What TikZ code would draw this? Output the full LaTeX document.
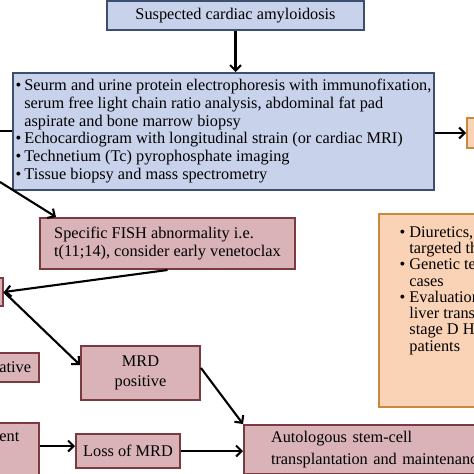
\documentclass[tikz,border=0pt]{standalone}
\usepackage{fontspec}
\setmainfont{Liberation Serif}
\usetikzlibrary{arrows.meta}
\definecolor{bluefill}{HTML}{C8D2EB}
\definecolor{blueline}{HTML}{3D4F6E}
\definecolor{redfill}{HTML}{D9B3B7}
\definecolor{redline}{HTML}{7A3A40}
\definecolor{orfill}{HTML}{FAD3B6}
\definecolor{orline}{HTML}{C98A3E}
\newcommand{\bul}{\textbullet}
\begin{document}
\begin{tikzpicture}[x=1pt,y=-1pt,
  font=\fontsize{16.3}{18}\selectfont,
  box/.style={draw, line width=2pt, inner sep=0pt},
  bluebox/.style={box, draw=blueline, fill=bluefill},
  redbox/.style={box, draw=redline, fill=redfill},
  orbox/.style={box, draw=orline, fill=orfill},
  conn/.style={line width=2.1pt, black},
  arr/.style={conn, -{Straight Barb[length=5.5pt,width=11pt]}}]
\useasboundingbox (0,0) rectangle (474,474);
\fill[white] (0,0) rectangle (474,474);
\clip (0,0) rectangle (474,474);

\node[bluebox, minimum width=257pt, minimum height=29pt] (susp) at (235.5,15.5) {Suspected cardiac amyloidosis};

\node[bluebox, minimum width=421pt, minimum height=117pt, font=\fontsize{16.3}{17.8}\selectfont] (tests) at (223.5,131.5) {%
\begin{tabular}{@{}l@{\hspace{3pt}}l@{}}
\bul & Seurm and urine protein electrophoresis with immunofixation,\\
 & serum free light chain ratio analysis, abdominal fat pad\\
 & aspirate and bone marrow biopsy\\
\bul & Echocardiogram with longitudinal strain (or cardiac MRI)\\
\bul & Technetium (Tc) pyrophosphate imaging\\
\bul & Tissue biopsy and mass spectrometry
\end{tabular}};

\node[orbox, anchor=north west, minimum width=40pt, minimum height=30pt] (orsmall) at (466,117) {};

\node[redbox, minimum width=255pt, minimum height=51pt, align=left] (fish) at (167.5,243.5) {Specific FISH abnormality i.e.\\ t(11;14), consider early venetoclax};

\node[redbox, anchor=north east, minimum width=40pt, minimum height=28pt] (lbox) at (4,277) {};

\node[redbox, minimum width=119pt, minimum height=54pt, align=center, font=\fontsize{16.3}{19.5}\selectfont] (mrdpos) at (140.5,373) {MRD\\ positive};

\node[redbox, anchor=east, minimum height=29pt, inner xsep=8pt] (neg) at (40,367.5) {ative};

\node[redbox, anchor=north east, minimum width=60pt, minimum height=70pt] (treat) at (40,422) {};
\node[anchor=base east, inner sep=0pt] (treattext) at (19.5,441.7) {ent};

\node[redbox, minimum width=104pt, minimum height=34pt] (loss) at (128,451) {Loss of MRD};

\node[redbox, anchor=north west, minimum height=49pt, text width=300pt, inner xsep=27pt, align=left, font=\fontsize{16.3}{21.5}\selectfont] (auto) at (243,424) {Autologous stem-cell\\ transplantation and maintenance};

\node[orbox, anchor=north west, minimum width=150pt, minimum height=193pt] (orbig) at (378,213) {};
\node[anchor=north west, inner sep=0pt, font=\fontsize{16.3}{16.2}\selectfont] (ortext) at (399.5,226) {%
\begin{tabular}{@{}l@{\hspace{4pt}}l@{}}
\bul & Diuretics, supportive care and\\
 & targeted therapy\\
\bul & Genetic testing in hereditary\\
 & cases\\
\bul & Evaluation for heart and\\
 & liver transplantation in\\
 & stage D HF\\
 & patients
\end{tabular}};

% connectors
\draw[arr] (susp.south) -- (susp.south |- tests.north);
\coordinate (leftin) at (0,131);
\draw[conn] (leftin) -- (leftin -| tests.west);
\draw[arr] (tests.east |- orsmall.west) -- (orsmall.west);
\coordinate (fishsrc) at (0,182);
\draw[arr] (fishsrc) -- ([xshift=17pt]fish.north west);
\draw[arr] (fish.south) -- (lbox.east);
\draw[arr] (lbox.east) -- ([yshift=8pt]mrdpos.west);
\draw[arr] ([yshift=5pt]mrdpos.east) -- (auto.north west);
\draw[arr] ([yshift=5pt]loss.west -| treat.east) -- ([yshift=5pt]loss.west);
\draw[arr] (loss.east) -- (loss.east -| auto.west);
\end{tikzpicture}
\end{document}
